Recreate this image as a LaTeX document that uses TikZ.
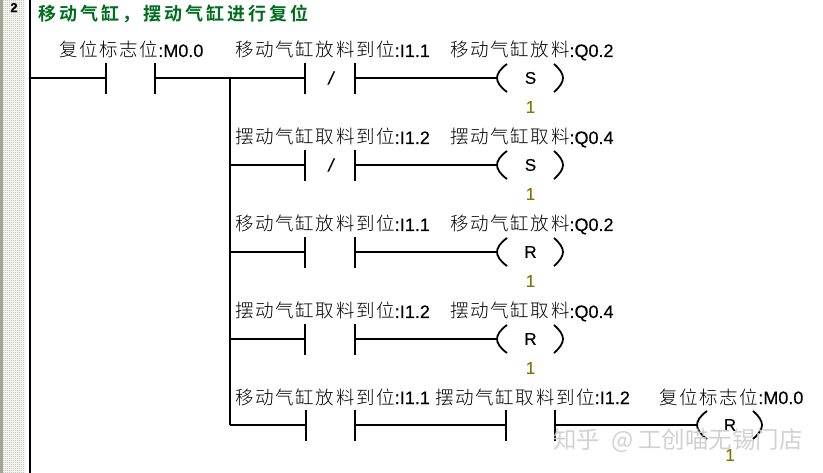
\documentclass[tikz,border=0pt]{standalone}
\usepackage{fontspec}
\usetikzlibrary{patterns}
\setmainfont[FakeBold=0.25]{Liberation Sans}
\newfontfamily\plainf{Liberation Sans}
\newfontfamily\cjkf[LetterSpace=9]{Noto Sans CJK SC Light}
\newfontfamily\cjkb[LetterSpace=17,BoldFont={Noto Sans CJK SC Bold}]{Noto Sans CJK SC}
\newfontfamily\wm{Noto Sans CJK SC}
\newcommand{\cn}[1]{{\fontsize{18.5}{18}\selectfont\cjkf #1}}
\definecolor{gutter}{RGB}{172,172,160}
\definecolor{gutteredge}{RGB}{165,165,148}
\definecolor{titlegreen}{RGB}{0,110,30}
\definecolor{olive1}{RGB}{128,118,0}
\definecolor{wmgray}{RGB}{205,205,205}
\pgfdeclarepatternformonly{chk}{\pgfpointorigin}{\pgfqpoint{2pt}{2pt}}{\pgfqpoint{2pt}{2pt}}{%
  \pgfpathrectangle{\pgfpointorigin}{\pgfqpoint{1pt}{1pt}}%
  \pgfpathrectangle{\pgfqpoint{1pt}{1pt}}{\pgfqpoint{1pt}{1pt}}%
  \pgfusepath{fill}}
\tikzset{
  x=1pt,y=-1pt,
  wire/.style={line width=1.8pt,black},
  railwire/.style={line width=2pt,black},
  lbl/.style={anchor=base west,inner sep=0pt,font=\fontsize{18}{18}\selectfont},
  coilletter/.style={inner sep=0pt,font=\fontsize{17}{17}\selectfont},
  coilnum/.style={inner sep=0pt,text=olive1,font=\fontsize{17}{17}\selectfont},
  nc/.style={inner sep=0pt,font=\fontsize{18}{18}\selectfont\itshape}
}
% contact: name, left x, right x, rail y
\newcommand{\contact}[4]{%
  \coordinate (#1L) at (#2,#4);
  \coordinate (#1R) at (#3,#4);
  \draw[wire] (#2,#4-15) -- (#2,#4+16);
  \draw[wire] (#3,#4-15) -- (#3,#4+16);
}
% coil: name, left apex x, right apex x, rail y, letter, number y
\newcommand{\coil}[6]{%
  \coordinate (#1L) at (#2,#4);
  \draw[wire] (#2+10,#4-14) .. controls (#2+3,#4-9) and (#2,#4-4) .. (#2,#4)
     .. controls (#2,#4+4) and (#2+3,#4+9) .. (#2+10,#4+14);
  \draw[wire] (#3-9,#4-14) .. controls (#3-3,#4-9) and (#3,#4-4) .. (#3,#4)
     .. controls (#3,#4+4) and (#3-3,#4+9) .. (#3-9,#4+14);
  \node[coilletter] (#1T) at ({(#2+#3)/2+0.5},#4) {#5};
  \node[coilnum] (#1N) at ({(#2+#3)/2+0.5},#6) {1};
}
\begin{document}
\begin{tikzpicture}
\useasboundingbox (0,0) rectangle (823,473);
\fill[white] (0,0) rectangle (823,473);
\fill[pattern=chk,pattern color=gutter] (0,0) rectangle (25,473);
\fill[gutteredge] (0,0) rectangle (3,473);
\node[inner sep=0pt,font=\bfseries\fontsize{13}{13}\selectfont] (num) at (14,7.5) {2};
\draw[railwire] (30,0) coordinate (railTop) -- (30,473) coordinate (railBot);
\node[anchor=base west,inner sep=0pt,text=titlegreen,font=\fontsize{18}{18}\selectfont\bfseries] (title) at (38,21) {\cjkb\bfseries 移动气缸，摆动气缸进行复位};

% labels
\node[lbl] (l0) at (59,57) {\cn{复位标志位}:M0.0};
\node[lbl] (l1a) at (235,57) {\cn{移动气缸放料到位}:I1.1};
\node[lbl] (l1b) at (450,57) {\cn{移动气缸放料}:Q0.2};
\node[lbl] (l2a) at (235,144) {\cn{摆动气缸取料到位}:I1.2};
\node[lbl] (l2b) at (450,144) {\cn{摆动气缸取料}:Q0.4};
\node[lbl] (l3a) at (235,231) {\cn{移动气缸放料到位}:I1.1};
\node[lbl] (l3b) at (450,231) {\cn{移动气缸放料}:Q0.2};
\node[lbl] (l4a) at (235,318) {\cn{摆动气缸取料到位}:I1.2};
\node[lbl] (l4b) at (450,318) {\cn{摆动气缸取料}:Q0.4};
\node[lbl] (l5a) at (235,404) {\cn{移动气缸放料到位}:I1.1};
\node[lbl] (l5b) at (435,404) {\cn{摆动气缸取料到位}:I1.2};
\node[lbl] (l5c) at (659,404) {\cn{复位标志位}:M0.0};

% contacts
\contact{k0}{106}{155}{78}
\contact{k1}{305}{355}{78}
\contact{k2}{305}{355}{165}
\contact{k3}{305}{355}{252}
\contact{k4}{305}{355}{339}
\contact{k5}{306}{355}{425}
\contact{k6}{506}{555}{425}
\node[nc] (s1) at (331,78) {/};
\node[nc] (s2) at (331,165) {/};

% coils
\coil{c1}{497}{563}{78}{S}{107}
\coil{c2}{497}{563}{165}{S}{194}
\coil{c3}{497}{563}{252}{R}{281}
\coil{c4}{497}{563}{339}{R}{368}
\coil{c5}{697}{762}{425}{R}{455}

% wires
\coordinate (b0) at (230,78);
\coordinate (b2) at (230,165);
\coordinate (b3) at (230,252);
\coordinate (b4) at (230,339);
\coordinate (b5) at (230,425);
\coordinate (r0) at (30,78);
\draw[wire] (r0) -- (k0L);
\draw[wire] (k0R) -- (k1L);
\draw[wire] (k1R) -- (c1L);
\draw[wire] (b0) -- (b5);
\draw[wire] (b2) -- (k2L);
\draw[wire] (k2R) -- (c2L);
\draw[wire] (b3) -- (k3L);
\draw[wire] (k3R) -- (c3L);
\draw[wire] (b4) -- (k4L);
\draw[wire] (k4R) -- (c4L);
\draw[wire] (b5) -- (k5L);
\draw[wire] (k5R) -- (k6L);
\draw[wire] (k6R) -- (c5L);

% watermark
\node[anchor=base west,inner sep=0pt,text=wmgray,opacity=0.9,font=\fontsize{23.5}{23.5}\selectfont] (mark) at (553,449) {\wm 知乎\hspace{11pt}@\hspace{5pt}工创喵无锡门店};
\end{tikzpicture}
\end{document}
